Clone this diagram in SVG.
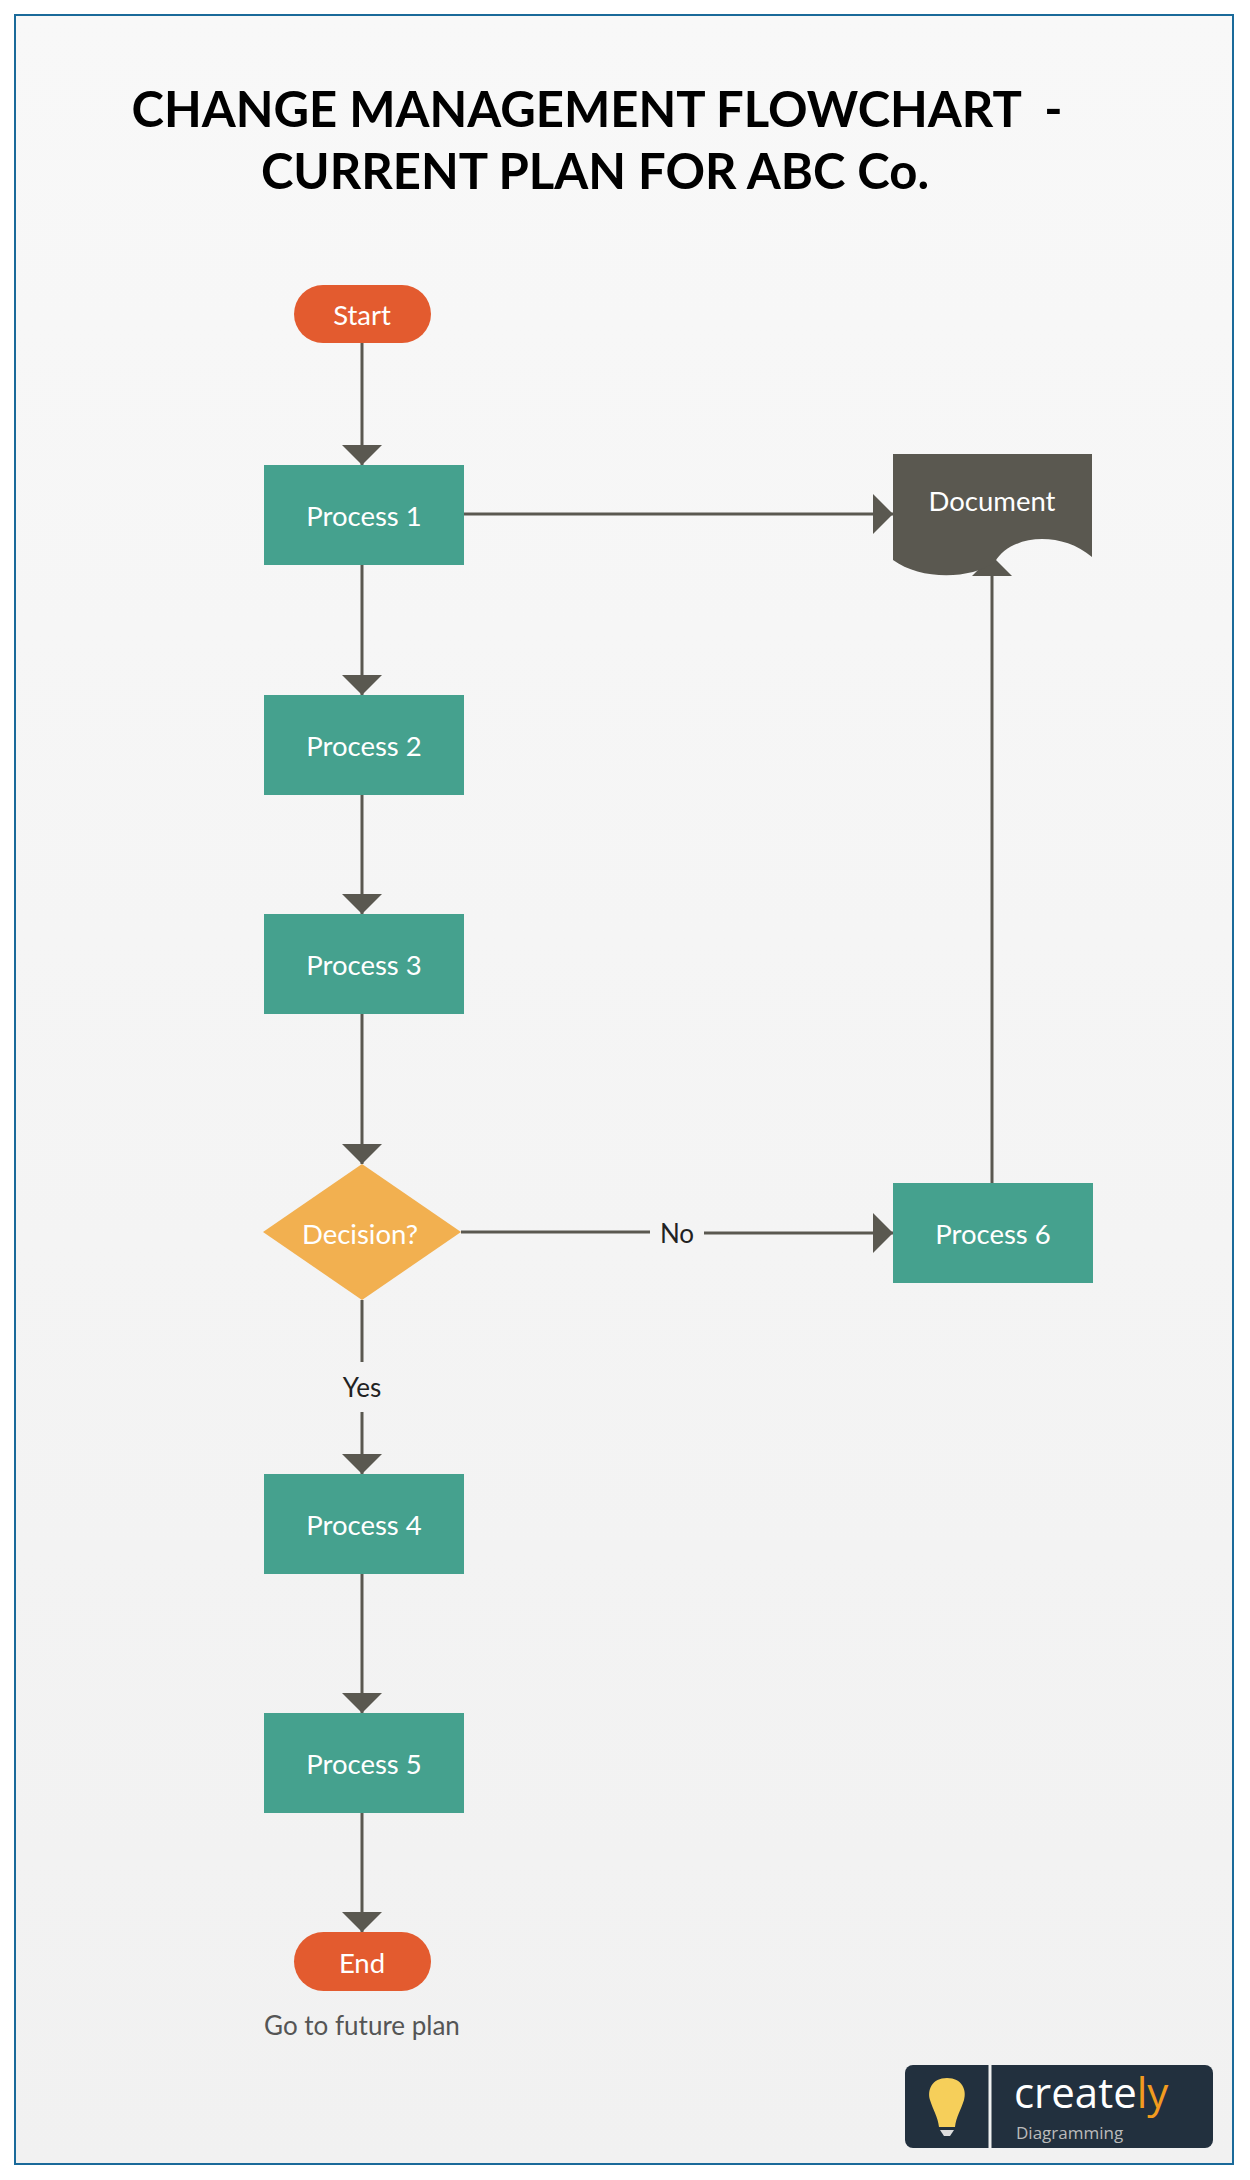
<svg xmlns="http://www.w3.org/2000/svg" width="1250" height="2180" viewBox="0 0 1250 2180">
<defs>
<linearGradient id="bg" x1="0" y1="0" x2="0" y2="1"><stop offset="0" stop-color="#f8f8f8"/><stop offset="1" stop-color="#f1f1f1"/></linearGradient>
<marker id="ah" viewBox="0 0 20 40" refX="20" refY="20" markerWidth="20" markerHeight="40" markerUnits="userSpaceOnUse" orient="auto"><path d="M0,0 L20,20 L0,40 Z" fill="#5a5850"/></marker>
<style>
.ln{stroke:#5a5850;stroke-width:3;fill:none}
.pr{fill:#45a18e}
.t{font-family:Lato,"Liberation Sans",sans-serif;font-size:27.5px;fill:#fff;text-anchor:middle;dominant-baseline:central}
.lb{font-family:Lato,"Liberation Sans",sans-serif;font-size:26px;fill:#222;text-anchor:middle;dominant-baseline:central}
</style>
</defs>
<rect width="1250" height="2180" fill="#fff"/>
<rect x="15" y="15" width="1218" height="2149" fill="url(#bg)" stroke="#1a6a9a" stroke-width="2"/>
<g id="title" font-family="Lato,'Liberation Sans',sans-serif" font-weight="bold" font-size="49" text-anchor="middle" fill="#000">
<text x="597" y="127" style="white-space:pre">CHANGE MANAGEMENT FLOWCHART  -</text>
<text x="595" y="189">CURRENT PLAN FOR ABC Co.</text>
</g>
<g id="connectors">
<line class="ln" x1="362" y1="343" x2="362" y2="465" marker-end="url(#ah)"/>
<line class="ln" x1="362" y1="565" x2="362" y2="695" marker-end="url(#ah)"/>
<line class="ln" x1="362" y1="795" x2="362" y2="914" marker-end="url(#ah)"/>
<line class="ln" x1="362" y1="1014" x2="362" y2="1164" marker-end="url(#ah)"/>
<polyline class="ln" points="362,1300 362,1362"/>
<line class="ln" x1="362" y1="1412" x2="362" y2="1474" marker-end="url(#ah)"/>
<line class="ln" x1="362" y1="1574" x2="362" y2="1713" marker-end="url(#ah)"/>
<line class="ln" x1="362" y1="1813" x2="362" y2="1932" marker-end="url(#ah)"/>
<line class="ln" x1="463" y1="514" x2="893" y2="514" marker-end="url(#ah)"/>
<line class="ln" x1="461" y1="1232" x2="650" y2="1232"/>
<line class="ln" x1="704" y1="1233" x2="893" y2="1233" marker-end="url(#ah)"/>
<line class="ln" x1="992" y1="1183" x2="992" y2="556" marker-end="url(#ah)"/>
<text class="lb" x="677" y="1233">No</text>
<text class="lb" x="362" y="1387">Yes</text>
</g>
<g id="start"><rect x="294" y="285" width="137" height="58" rx="29" fill="#e35b2f"/><text class="t" x="362" y="314">Start</text></g>
<g id="p1"><rect class="pr" x="264" y="465" width="200" height="100"/><text class="t" x="364" y="515">Process 1</text></g>
<g id="p2"><rect class="pr" x="264" y="695" width="200" height="100"/><text class="t" x="364" y="745">Process 2</text></g>
<g id="p3"><rect class="pr" x="264" y="914" width="200" height="100"/><text class="t" x="364" y="964">Process 3</text></g>
<g id="decision"><polygon points="362,1164 461,1232 362,1300 263,1232" fill="#f2b050"/><text class="t" x="360" y="1233" font-family="'Liberation Sans',sans-serif" font-size="25">Decision?</text></g>
<g id="p4"><rect class="pr" x="264" y="1474" width="200" height="100"/><text class="t" x="364" y="1524">Process 4</text></g>
<g id="p5"><rect class="pr" x="264" y="1713" width="200" height="100"/><text class="t" x="364" y="1763">Process 5</text></g>
<g id="end"><rect x="294" y="1932" width="137" height="59" rx="29.5" fill="#e35b2f"/><text class="t" x="362" y="1962">End</text><text class="lb" x="362" y="2025" style="fill:#555">Go to future plan</text></g>
<g id="document"><path d="M893,454 L1092,454 L1092,557 C1060,530 1010,535 995,562 C970,580 920,580 893,560 Z" fill="#5a5850"/><text class="t" x="992" y="500">Document</text></g>
<g id="p6"><rect class="pr" x="893" y="1183" width="200" height="100"/><text class="t" x="993" y="1233">Process 6</text></g>
<g id="logo">
<rect x="905" y="2065" width="308" height="83" rx="8" fill="#22303e"/>
<line x1="990" y1="2065" x2="990" y2="2148" stroke="#f1f1f1" stroke-width="3"/>
<path d="M947,2078 C932,2078 927,2090 930,2100 C933,2110 938,2117 939,2127 L955,2127 C956,2117 961,2110 964,2100 C967,2090 962,2078 947,2078 Z" fill="#f6cf5a"/>
<path d="M940,2130 L954,2130 L950,2136 L944,2136 Z" fill="#ddd"/>
<text x="1014" y="2108" font-family="'Open Sans',sans-serif" font-size="42" fill="#fff">create<tspan fill="#f29b1e">ly</tspan></text>
<text x="1016" y="2139" font-family="'Open Sans',sans-serif" font-size="17" fill="#bbb">Diagramming</text>
</g>
</svg>
